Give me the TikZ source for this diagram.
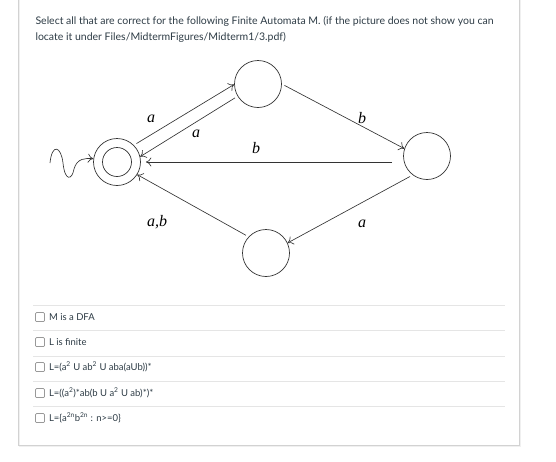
\documentclass[tikz,border=0pt]{standalone}
\usepackage{fontspec}
\setmainfont{Lato}
\newfontfamily\labelfont{Liberation Serif}
\usetikzlibrary{arrows.meta}
\definecolor{canvastext}{HTML}{2D3B45}
\definecolor{edgegray}{HTML}{333333}
\begin{document}
\begin{tikzpicture}[x=1pt,y=-1pt,
  state/.style={circle,draw=edgegray,line width=0.7pt,minimum size=47pt,inner sep=0pt},
  trans/.style={draw=edgegray,line width=0.65pt,-{To[length=5.5pt,width=9pt]},shorten <=3pt},
  lab/.style={font=\labelfont\itshape\fontsize{16}{16}\selectfont,text=black},
  choice/.style={font=\fontsize{9.5}{11}\selectfont,text=canvastext,anchor=west},
  cbox/.style={draw=gray!80,rounded corners=1pt,line width=0.7pt,minimum size=9pt,inner sep=0pt}]
  \useasboundingbox (0,0) rectangle (556,461);
  % card frame
  \draw[gray!12,line width=1.5pt] (19.5,-5) -- (19.5,446.5) -- (520.5,446.5) -- (520.5,-5);
  \draw[gray!35,line width=0.7pt] (18,-5) -- (18,445) -- (519,445) -- (519,-5);
  % question
  \node[anchor=base west,font=\fontsize{10.5}{12}\selectfont,text=canvastext] (line1) at (32,24)
    {Select all that are correct for the following Finite Automata M. (if the picture does not show you can};
  \node[anchor=base west,font=\fontsize{10.5}{12}\selectfont,text=canvastext] (line2) at (32,40)
    {locate it under Files/MidtermFigures/Midterm1/3.pdf)};
  % automaton
  \node[state] (q0) at (117,162) {};
  \node[circle,draw=edgegray,line width=0.7pt,minimum size=29pt,inner sep=0pt] (q0in) at (q0) {};
  \node[state] (q1) at (258,84) {};
  \node[state] (q2) at (427,156) {};
  \node[state] (q3) at (266,253) {};
  \coordinate (init) at (50,163);
  \draw[draw=edgegray,line width=0.65pt,-{To[length=5.5pt,width=9pt]}] (init)
    .. controls (52,143) and (61,146) .. (63,163)
    .. controls (65,182) and (72,180) .. (74,169)
    .. controls (77,158) and (86,158) .. (q0.172);
  \draw[trans] (q0.45) -- (q1.181);
  \draw[trans] (q1.211) -- (q0.13);
  \draw[trans] ([xshift=-8pt]q2.west |- q0.east) -- ([xshift=5pt]q0.east);
  \draw[trans] (q3.137) -- (q0.-32);
  \draw[trans] (q1.0) -- (q2.162);
  \draw[trans] (q2.233) -- (q3.25);
  \node[lab] (la1) at (151,119) {a};
  \node[lab] (la2) at (196,134) {a};
  \node[lab] (lb1) at (256,148) {b};
  \node[lab] (lab1) at (157,222) {a,b};
  \node[lab] (lb2) at (362,118) {b};
  \node[lab] (la3) at (362,224) {a};
  % answer choices
  \foreach \y in {305,330,356,381,406}
    \draw[gray!20,line width=0.6pt] (33,\y) -- (505,\y);
  \foreach \y/\txt [count=\i] in {317/{M is a DFA},
      342/{L is finite},
      367/{L=(a\textsuperscript{2} U ab\textsuperscript{2} U aba(aUb))*},
      393/{L=((a\textsuperscript{2})*ab(b U a\textsuperscript{2} U ab)*)*},
      418/{L=\{a\textsuperscript{2n}b\textsuperscript{2n} : n>=0\}}} {
    \node[cbox] (box\i) at (40,\y) {};
    \node[choice] (opt\i) at (45.5,\y) {\txt};
  }
\end{tikzpicture}
\end{document}
